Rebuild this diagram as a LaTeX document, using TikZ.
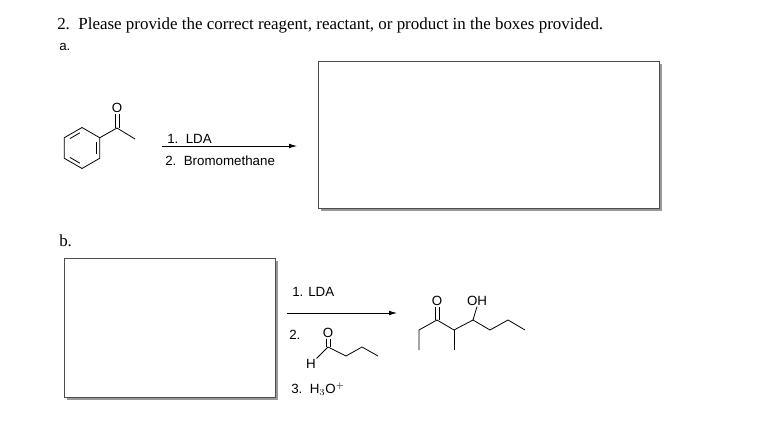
\documentclass[tikz,border=0pt]{standalone}
\usepackage{fontspec}
\setmainfont{Liberation Serif}
\newfontfamily\lab{Liberation Sans}
\usetikzlibrary{calc,arrows.meta}
\begin{document}
\begin{tikzpicture}[x=0.75pt,y=-0.75pt,
  bond/.style={line width=0.6pt},
  lbl/.style={font=\lab\fontsize{10}{11}\selectfont,inner sep=0pt,anchor=west},
  atom/.style={font=\lab\fontsize{10}{11}\selectfont,inner sep=0.5pt,fill=white},
  ansbox/.style={draw=black!70,line width=0.6pt,fill=white},
  rxn/.style={line width=0.6pt,-{Latex[length=6pt,width=3.5pt]}}]
\useasboundingbox (0,0) rectangle (777,431);
\node[anchor=west,inner sep=0pt,font=\fontsize{12.7}{14}\selectfont] (title) at (57,25) {2.\ \ Please provide the correct reagent, reactant, or product in the boxes provided.};
\node[lbl] (la) at (59,47) {a.};
\node[anchor=west,inner sep=0pt,font=\fontsize{12.7}{14}\selectfont] (lb) at (59,241) {b.};
% boxes
\fill[black!40] (321,64) rectangle (662,211);
\node[ansbox,minimum width=341*0.75pt,minimum height=147*0.75pt,anchor=north west] (boxa) at (318,61) {};
\fill[black!40] (67,261) rectangle (278,400);
\node[ansbox,minimum width=211*0.75pt,minimum height=139*0.75pt,anchor=north west] (boxb) at (64,258) {};
% acetophenone
\coordinate (cen) at (82,148);
\foreach \i in {0,...,5}{\coordinate (r\i) at ({82+20.5*sin(60*\i)},{148-20.5*cos(60*\i)});}
\draw[bond] (r0)--(r1)--(r2)--(r3)--(r4)--(r5)--cycle;
\foreach \a/\b in {r1/r2,r3/r4,r5/r0}{
  \draw[bond] ($(\a)!0.15!(\b)!0.2!(cen)$) -- ($(\b)!0.15!(\a)!0.2!(cen)$);}
\coordinate (ca) at (117,128);
\coordinate (me) at (135,139);
\node[atom] (oa) at (117,108) {O};
\draw[bond] (r1)--(ca)--(me);
\draw[bond] ([xshift=-1.5]oa.south)--([xshift=-1.5]ca) ([xshift=1.5]oa.south)--([xshift=1.5]ca);
% arrow a
\coordinate (a1) at (162,146); \coordinate (a2) at (297,146);
\draw[rxn] (a1)--(a2);
\node[lbl] (ta1) at (167,139) {1.\ \ LDA};
\node[lbl] (ta2) at (165,161) {2.\ \ Bromomethane};
% arrow b
\coordinate (b1) at (287,313); \coordinate (b2) at (397,313);
\draw[rxn] (b1)--(b2);
\node[lbl] (tb1) at (292,292) {1. LDA};
\node[lbl] (tb2) at (289,335) {2.};
\node[lbl] (tb3) at (291,389) {3.\ \ H$_3$O$^+$};
% butanal
\coordinate (c1) at (328,347);
\node[atom] (ob) at (328,333) {O};
\node[atom] (hb) at (311,364) {H};
\coordinate (c2) at (346,356); \coordinate (c3) at (362,347); \coordinate (c4) at (378,356);
\draw[bond] (hb)--(c1)--(c2)--(c3)--(c4);
\draw[bond] ([xshift=-1.5]ob.south)--([xshift=-1.5]c1) ([xshift=1.5]ob.south)--([xshift=1.5]c1);
% product
\coordinate (p1) at (419,350); \coordinate (p2) at (419,330); \coordinate (p3) at (437,320);
\node[atom] (op) at (437,301) {O};
\coordinate (p4) at (454,330); \coordinate (p5) at (454,350);
\coordinate (p6) at (473,320);
\node[atom] (oh) at (477,301) {OH};
\coordinate (p7) at (490,330); \coordinate (p8) at (508,320); \coordinate (p9) at (525,330);
\draw[bond] (p1)--(p2)--(p3)--(p4)--(p6)--(p7)--(p8)--(p9);
\draw[bond] (p4)--(p5);
\draw[bond] (p6)--(oh.south);
\draw[bond] ([xshift=-1.5]op.south)--([xshift=-1.5]p3) ([xshift=1.5]op.south)--([xshift=1.5]p3);
\end{tikzpicture}
\end{document}
